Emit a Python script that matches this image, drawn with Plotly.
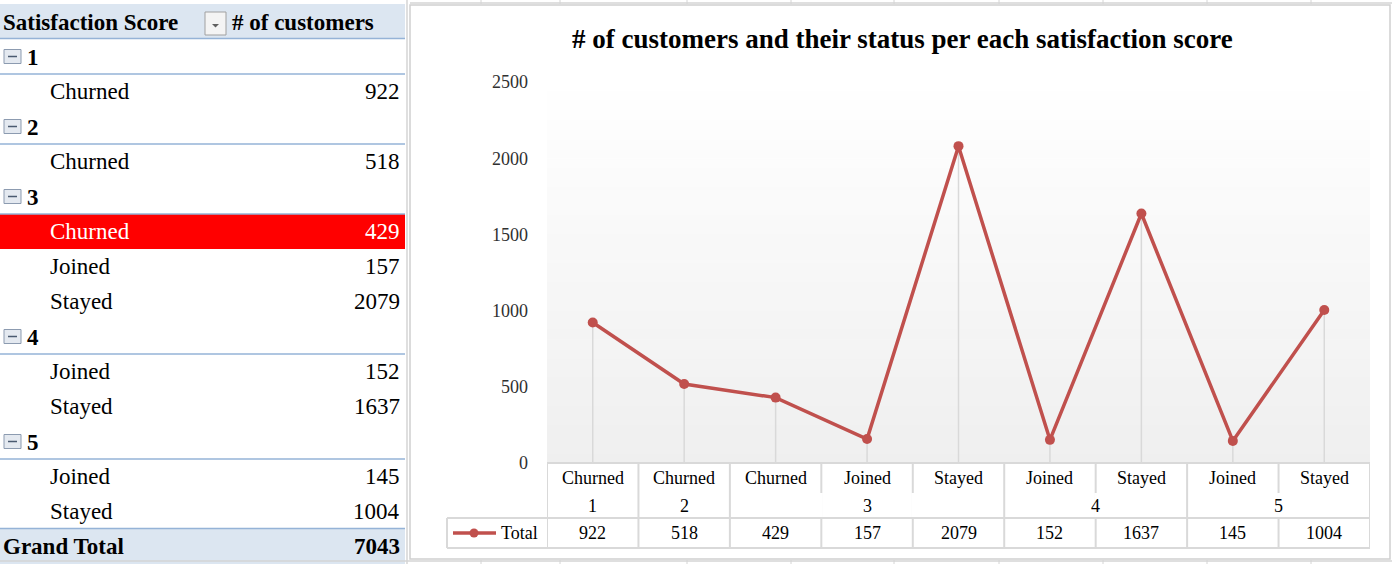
import plotly.graph_objects as go

W, H = 1392, 564

# ---------------- data ----------------
scores = [1, 2, 3, 4, 5]
statuses = ["Churned", "Churned", "Churned", "Joined", "Stayed", "Joined", "Stayed", "Joined", "Stayed"]
score_of = [1, 2, 3, 3, 3, 4, 4, 5, 5]
customers = [922, 518, 429, 157, 2079, 152, 1637, 145, 1004]
y_ticks = [0, 500, 1000, 1500, 2000, 2500]
title_text = "# of customers and their status per each satisfaction score"
series_name = "Total"
pivot_header = ["Satisfaction Score", "# of customers"]
grand_total_label = "Grand Total"
highlight = (3, "Churned")

# ---------------- style ----------------
FONT = "Liberation Serif"
LINE_RED = "#C0504D"
GRID = "#D9D9D9"
PIV_FILL = "#DCE6F1"
PIV_LINE = "#95B3D7"


def X(p):
    return p / W


def Y(p):
    return 1 - p / H


shapes = []
ann = []


def rect(x0, y0, x1, y1, fill, line=None, lw=0, layer="below"):
    shapes.append(dict(type="rect", xref="paper", yref="paper",
                       x0=X(x0), x1=X(x1), y0=Y(y1), y1=Y(y0),
                       fillcolor=fill, line=dict(width=lw, color=line or fill), layer=layer))


def seg(x0, y0, x1, y1, color, w=1, layer="above"):
    shapes.append(dict(type="line", xref="paper", yref="paper",
                       x0=X(x0), x1=X(x1), y0=Y(y0), y1=Y(y1),
                       line=dict(color=color, width=w), layer=layer))


def text(x, y, s, size, xanchor="left", bold=False, color="black", xref="paper"):
    ann.append(dict(x=(X(x) if xref == "paper" else x), y=Y(y), xref=xref, yref="paper",
                    text=(f"<b>{s}</b>" if bold else s), showarrow=False,
                    xanchor=xanchor, yanchor="middle",
                    font=dict(family=FONT, size=size, color=color)))


# ---------------- sheet background gridlines ----------------
sheet_cols = [481, 560, 687, 791, 894, 999, 1103, 1207, 1311]
seg(410, 3, W, 3, "#D4D4D4", 1.5)
seg(0, 561, W, 561, "#D4D4D4", 1.5)
for c in sheet_cols:
    seg(c, 0, c, 4, "#D4D4D4", 1)
    seg(c, 560, c, 564, "#D4D4D4", 1)
seg(407, 0, 407, 564, "#D4D4D4", 1.5)

# ---------------- pivot table ----------------
PX_R = 405
rect(0, 4, PX_R, 38, PIV_FILL)
seg(0, 38.5, PX_R, 38.5, PIV_LINE, 1.5)
text(1, 22, pivot_header[0], 23, bold=True)
text(230, 22, pivot_header[1], 23, bold=True)
# dropdown button
rect(205, 12, 226, 35, "#F4F4F4", "#A0A0A0", 1, layer="above")
shapes.append(dict(type="path", xref="paper", yref="paper",
                   path=f"M {X(212)},{Y(24)} L {X(219)},{Y(24)} L {X(215.5)},{Y(27.5)} Z",
                   fillcolor="#606060", line=dict(width=0), layer="above"))

rows = []
for s in scores:
    rows.append(("group", s, None))
    for st, so, v in zip(statuses, score_of, customers):
        if so == s:
            rows.append(("item", st, v, s))
rows.append(("total", grand_total_label, sum(customers)))

ROW0, RH = 39, 35
for k, r in enumerate(rows):
    top = ROW0 + RH * k
    cy = top + RH / 2
    if r[0] == "group":
        rect(4, cy - 7, 21, cy + 7, "#E4E9F0", "#8C9BB0", 1, layer="above")
        seg(8, cy, 17, cy, "#4A5A70", 1.5)
        text(25, cy + 1, str(r[1]), 23, bold=True)
        seg(0, top + RH, PX_R, top + RH, PIV_LINE, 1.5)
    elif r[0] == "item":
        hl = (r[3], r[1]) == highlight
        col = "white" if hl else "black"
        if hl:
            rect(0, top, PX_R, top + RH, "#FF0000")
        text(48, cy, r[1], 23, color=col)
        text(402, cy, str(r[2]), 23, xanchor="right", color=col)
    else:
        rect(0, top, PX_R, H, PIV_FILL)
        seg(0, top - 0.5, PX_R, top - 0.5, PIV_LINE, 1.5)
        text(1, cy, r[1], 23, bold=True)
        text(402, cy, str(r[2]), 23, xanchor="right", bold=True)

# ---------------- chart area ----------------
CL, CT, CR, CB = 410, 5, 1390, 559
rect(CL, CT, CR, CB, "white", "#D0D0D0", 1.5)
text((CL + CR) / 2 + 2, 39, title_text, 27, xanchor="center", bold=True)

PL, PR, PT, PB = 547, 1370, 82, 463
# vertical gradient of plot area (white -> light gray)
nb = 40
for b in range(nb):
    y0 = PT + (PB - PT) * b / nb
    y1 = PT + (PB - PT) * (b + 1) / nb + 0.6
    g = round(255 - (255 - 239) * (b + 0.5) / nb)
    rect(PL, y0, PR, y1, f"rgb({g},{g},{g})")

idx = list(range(len(customers)))

# data table grid
TB1, TB2, TB3 = 493, 518, 548
LEG_L = 447
seg(PL, PB, PR, PB, GRID, 2)
seg(LEG_L, TB2, PR, TB2, GRID, 2)
seg(LEG_L, TB3, PR, TB3, GRID, 2)
seg(LEG_L, TB2, LEG_L, TB3, GRID, 2)
for i in range(len(idx) + 1):
    xb = i - 0.5
    full = i == 0 or i == len(idx) or score_of[i] != score_of[i - 1]
    shapes.append(dict(type="line", xref="x", yref="paper", x0=xb, x1=xb,
                       y0=Y(TB3), y1=Y(PB), line=dict(color=GRID, width=2)))
    if not full:
        # merged group cell: hide the lower part of the separator
        shapes.append(dict(type="line", xref="x", yref="paper", x0=xb, x1=xb,
                           y0=Y(TB2 - 1), y1=Y(TB1), line=dict(color="white", width=3)))

# table texts
for i, (st, v) in enumerate(zip(statuses, customers)):
    text(i, 478, st, 18, xanchor="center", xref="x")
    text(i, 533, str(v), 18, xanchor="center", xref="x")
for s in scores:
    members = [i for i in idx if score_of[i] == s]
    text(sum(members) / len(members), 506, str(s), 18, xanchor="center", xref="x")

# legend key
seg(453, 533, 496, 533, LINE_RED, 3.5)
shapes.append(dict(type="circle", xref="paper", yref="paper",
                   x0=X(469.5), x1=X(478.5), y0=Y(537.5), y1=Y(528.5),
                   fillcolor=LINE_RED, line=dict(width=0), layer="above"))
text(499, 533, series_name, 18)

# ---------------- traces ----------------
drop_x, drop_y = [], []
for i, v in zip(idx, customers):
    drop_x += [i, i, None]
    drop_y += [0, v, None]

fig = go.Figure()
fig.add_trace(go.Scatter(x=drop_x, y=drop_y, mode="lines",
                         line=dict(color=GRID, width=1.5), hoverinfo="skip", showlegend=False))
fig.add_trace(go.Scatter(x=idx, y=customers, mode="lines+markers", name=series_name,
                         line=dict(color=LINE_RED, width=3.5),
                         marker=dict(color=LINE_RED, size=10), showlegend=False))

fig.update_layout(
    template="none",
    width=W, height=H, margin=dict(l=0, r=0, t=0, b=0, pad=0, autoexpand=False),
    paper_bgcolor="white", plot_bgcolor="rgba(0,0,0,0)",
    shapes=shapes, annotations=ann, showlegend=False,
    xaxis=dict(domain=[X(PL), X(PR)], range=[-0.5, len(idx) - 0.5], automargin=False,
               showticklabels=False, showgrid=False, zeroline=False, showline=False, ticks=""),
    yaxis=dict(domain=[Y(PB), Y(PT)], range=[0, 2500], tickvals=y_ticks, automargin=False,
               showgrid=False, zeroline=False, showline=False, ticks="",
               ticklabelstandoff=18,
               tickfont=dict(family=FONT, size=18, color="#303030")),
)

fig.write_html("out.html", config={"displayModeBar": False},
               post_script="document.body.style.margin='0';document.body.style.overflow='hidden';")
